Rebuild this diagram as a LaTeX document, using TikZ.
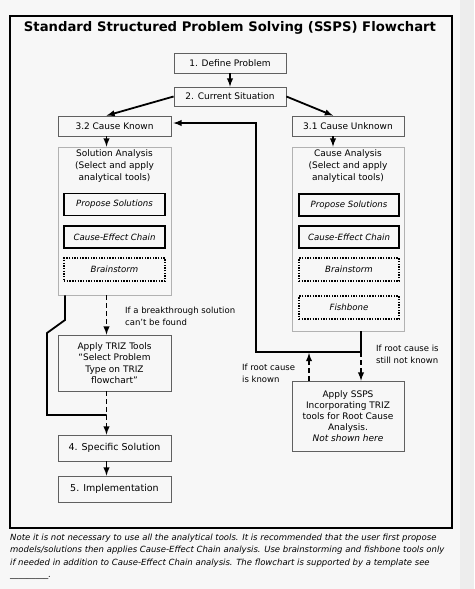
\documentclass[tikz,border=0pt]{standalone}
\usepackage{fontspec}
\setmainfont{DejaVu Sans}
\usetikzlibrary{calc}

\tikzset{
	stepbox/.style={draw=gray!75!black, fill=gray!6, line width=0.8pt,
		minimum width=112pt, minimum height=20pt, inner sep=1pt,
		align=center, font=\fontsize{9}{11.5}\selectfont},
	groupbox/.style={draw=gray!60, fill=gray!6, line width=0.8pt,
		minimum width=112pt, inner sep=0pt},
	toolbox/.style={draw=black, fill=gray!6, line width=1.8pt,
		minimum width=101pt, minimum height=22pt, inner sep=1pt,
		font=\itshape\fontsize{8.6}{10}\selectfont},
	dotbox/.style={toolbox, line width=1.5pt, dash pattern=on 1.4pt off 1.3pt},
	boxtext/.style={align=center, inner sep=0pt, font=\fontsize{9}{12}\selectfont},
	labeltext/.style={align=left, inner sep=0pt, anchor=north west,
		font=\fontsize{8.5}{11.5}\selectfont},
	flow/.style={line width=1.8pt, -latex},
	dashflow/.style={flow, dash pattern=on 5pt off 3pt},
}

\begin{document}
\begin{tikzpicture}[x=1pt, y=-1pt]
%background and frame
\fill[gray!6] (0,0) rectangle (474,589);
\fill[gray!14] (460,0) rectangle (474,589);
\useasboundingbox (0,0) rectangle (474,589);
\draw[line width=2pt] (10,16) rectangle (452,528);

\node[font=\bfseries\fontsize{13.2}{15}\selectfont] (title) at (230,28)
	{Standard Structured Problem Solving (SSPS) Flowchart};

%top steps
\node[stepbox] (define) at (230,63) {1. Define Problem};
\node[stepbox, minimum height=19pt] (current) at (230,96.5) {2. Current Situation};
\node[stepbox, minimum width=113pt] (known) at (114.5,126) {3.2 Cause Known};
\node[stepbox] (unknown) at (348,126) {3.1 Cause Unknown};

%left column
\node[groupbox, minimum width=113pt, minimum height=148pt] (solana) at (114.5,221) {};
\node[boxtext] (solanatxt) at (114.5,166) {Solution Analysis\\(Select and apply\\analytical tools)};
\node[toolbox] (proposeL) at (114.5,204.5) {Propose Solutions};
\node[toolbox] (chainL) at (114.5,237) {Cause-Effect Chain};
\node[dotbox, minimum height=23pt] (brainL) at (114.5,269.5) {Brainstorm};

\node[stepbox, minimum width=113pt, minimum height=56pt] (triz) at (114.5,363)
	{Apply TRIZ Tools\\``Select Problem\\Type on TRIZ\\flowchart''};
\node[stepbox, minimum width=113pt, minimum height=26pt, font=\fontsize{9.5}{11}\selectfont]
	(specific) at (114.5,448) {4. Specific Solution};
\node[stepbox, minimum width=113pt, minimum height=26pt, font=\fontsize{9.5}{11}\selectfont]
	(implement) at (114.5,489) {5. Implementation};

%right column
\node[groupbox, minimum height=184pt] (cauana) at (348,239) {};
\node[boxtext] (cauanatxt) at (348,166) {Cause Analysis\\(Select and apply\\analytical tools)};
\node[toolbox, minimum width=100pt] (proposeR) at (349,205) {Propose Solutions};
\node[toolbox, minimum width=100pt] (chainR) at (349,237) {Cause-Effect Chain};
\node[dotbox, minimum width=100pt, minimum height=23pt] (brainR) at (349,269.5) {Brainstorm};
\node[dotbox, minimum width=100pt, minimum height=23pt] (fishR) at (349,307.5) {Fishbone};

\node[stepbox, minimum height=70pt, font=\fontsize{9}{11}\selectfont] (ssps) at (348,416)
	{Apply SSPS\\Incorporating TRIZ\\tools for Root Cause\\Analysis.\\\textit{Not shown here}};

%labels
\node[labeltext] (breaklbl) at (125,307) {If a breakthrough solution\\can't be found};
\node[labeltext] (stilllbl) at (376,345) {If root cause is\\still not known};
\node[labeltext] (knownlbl) at (242,364) {If root cause\\is known};

%connectors
\coordinate (lcol) at (106.5,0);
\coordinate (rcol) at (333,0);
\draw[flow] (define) -- (current);
\draw[flow] (current.west) -- (known.north -| lcol);
\draw[flow] (current.east) -- (unknown.north -| rcol);
\draw[flow] (known.south -| lcol) -- (solana.north -| lcol);
\draw[flow] (unknown.south -| rcol) -- (cauana.north -| rcol);

\coordinate (fbR) at (361,352);
\coordinate (fbL) at (256,352);
\coordinate (fbTop) at (256,123);
\draw[flow, shorten >=2pt]
	(cauana.south -| fbR) -- (fbR) -- (fbL) -- (fbTop) -- (fbTop -| known.east);
\coordinate (upcol) at (309,0);
\draw[dashflow, shorten >=1pt] (ssps.north -| upcol) -- (fbL -| upcol);
\draw[dashflow] (fbR) -- (ssps.north -| fbR);

\coordinate (bendA) at (65,320);
\coordinate (bendB) at (47,333);
\coordinate (bendC) at (47,415);
\coordinate (joinL) at (106.5,415);
\draw[line width=1.8pt] (solana.south -| bendA) -- (bendA) -- (bendB) -- (bendC) -- (joinL);
\draw[dashflow] (solana.south -| lcol) -- (triz.north -| lcol);
\draw[dashflow] (triz.south -| lcol) -- (specific.north -| lcol);
\draw[flow] (specific.south -| lcol) -- (implement.north -| lcol);

%note
\node[labeltext, font=\itshape\fontsize{8.5}{12.3}\selectfont] (note) at (10,534)
	{Note it is not necessary to use all the analytical tools. It is recommended that the user first propose\\
	models/solutions then applies Cause-Effect Chain analysis. Use brainstorming and fishbone tools only\\
	if needed in addition to Cause-Effect Chain analysis. The flowchart is supported by a template see\\
	\_\_\_\_\_\_\_\_\_.};
\end{tikzpicture}
\end{document}
